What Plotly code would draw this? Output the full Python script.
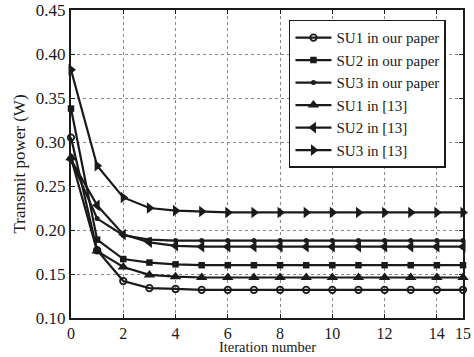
import plotly.graph_objects as go

iterations = list(range(16))
su1_ours = [0.305, 0.177, 0.142, 0.134, 0.133, 0.132, 0.132, 0.132, 0.132, 0.132, 0.132, 0.132, 0.132, 0.132, 0.132, 0.132]
su2_ours = [0.338, 0.189, 0.167, 0.163, 0.161, 0.160, 0.160, 0.160, 0.160, 0.160, 0.160, 0.160, 0.160, 0.160, 0.160, 0.160]
su3_ours = [0.280, 0.213, 0.194, 0.189, 0.188, 0.188, 0.188, 0.188, 0.188, 0.188, 0.188, 0.188, 0.188, 0.188, 0.188, 0.188]
su1_ref = [0.282, 0.176, 0.158, 0.149, 0.147, 0.146, 0.146, 0.146, 0.146, 0.146, 0.146, 0.146, 0.146, 0.146, 0.146, 0.146]
su2_ref = [0.280, 0.228, 0.195, 0.186, 0.182, 0.181, 0.181, 0.181, 0.181, 0.181, 0.181, 0.181, 0.181, 0.181, 0.181, 0.181]
su3_ref = [0.382, 0.273, 0.237, 0.225, 0.222, 0.221, 0.220, 0.220, 0.220, 0.220, 0.220, 0.220, 0.220, 0.220, 0.220, 0.220]

names = ["SU1 in our paper", "SU2 in our paper", "SU3 in our paper",
         "SU1 in [13]", "SU2 in [13]", "SU3 in [13]"]
x_tickvals = [0, 2, 4, 6, 8, 10, 12, 14, 15]
y_tickvals = [0.10, 0.15, 0.20, 0.25, 0.30, 0.35, 0.40, 0.45]

series = [su1_ours, su2_ours, su3_ours, su1_ref, su2_ref, su3_ref]
markers = [
    dict(symbol="circle-open", size=6.5, line=dict(width=1.8, color="#1a1a1a")),
    dict(symbol="square", size=6.5),
    dict(symbol="circle", size=5),
    dict(symbol="triangle-up", size=10),
    dict(symbol="triangle-left", size=10),
    dict(symbol="triangle-right", size=10),
]

fig = go.Figure()
for name, ys, mk in zip(names, series, markers):
    m = dict(color="#1a1a1a")
    m.update(mk)
    fig.add_trace(go.Scatter(x=iterations, y=ys, name=name, mode="lines+markers",
                             line=dict(color="#1a1a1a", width=2.2), marker=m,
                             cliponaxis=False))

axis_common = dict(showline=True, linecolor="#1a1a1a", linewidth=2, mirror="ticks",
                   ticks="inside", ticklen=4, tickcolor="#1a1a1a", automargin=False,
                   showgrid=True, gridcolor="#888888", griddash="dot", gridwidth=1,
                   zeroline=False)

fig.update_layout(
    width=474, height=357,
    margin=dict(l=71, r=11, t=10, b=39),
    paper_bgcolor="white", plot_bgcolor="white",
    font=dict(family="Liberation Serif", color="#1a1a1a"),
    showlegend=True,
    legend=dict(x=0.556, y=0.968, xanchor="left", yanchor="top",
                bgcolor="white", bordercolor="#1a1a1a", borderwidth=1.5,
                font=dict(family="Liberation Serif", size=15, color="#1a1a1a"),
                tracegroupgap=0, itemwidth=36),
    annotations=[dict(text="Iteration number", xref="paper", yref="paper",
                      x=0.5, y=-0.1266, xanchor="center", yanchor="bottom",
                      showarrow=False,
                      font=dict(family="Liberation Serif", size=14.5, color="#1a1a1a"))],
)
fig.update_xaxes(range=[0, 15], tickvals=x_tickvals, ticktext=[str(v) for v in x_tickvals],
                 tickfont=dict(family="Liberation Serif", size=16, color="#1a1a1a"),
                 **axis_common)
fig.update_yaxes(range=[0.10, 0.45], tickvals=y_tickvals, ticktext=[f"{v:.2f}" for v in y_tickvals],
                 tickfont=dict(family="Liberation Serif", size=17, color="#1a1a1a"),
                 title=dict(text="Transmit power (W)", font=dict(size=17), standoff=6),
                 **axis_common)

fig.write_html("out.html", config={"displayModeBar": False},
               post_script="document.body.style.margin='0';document.body.style.padding='0';")
